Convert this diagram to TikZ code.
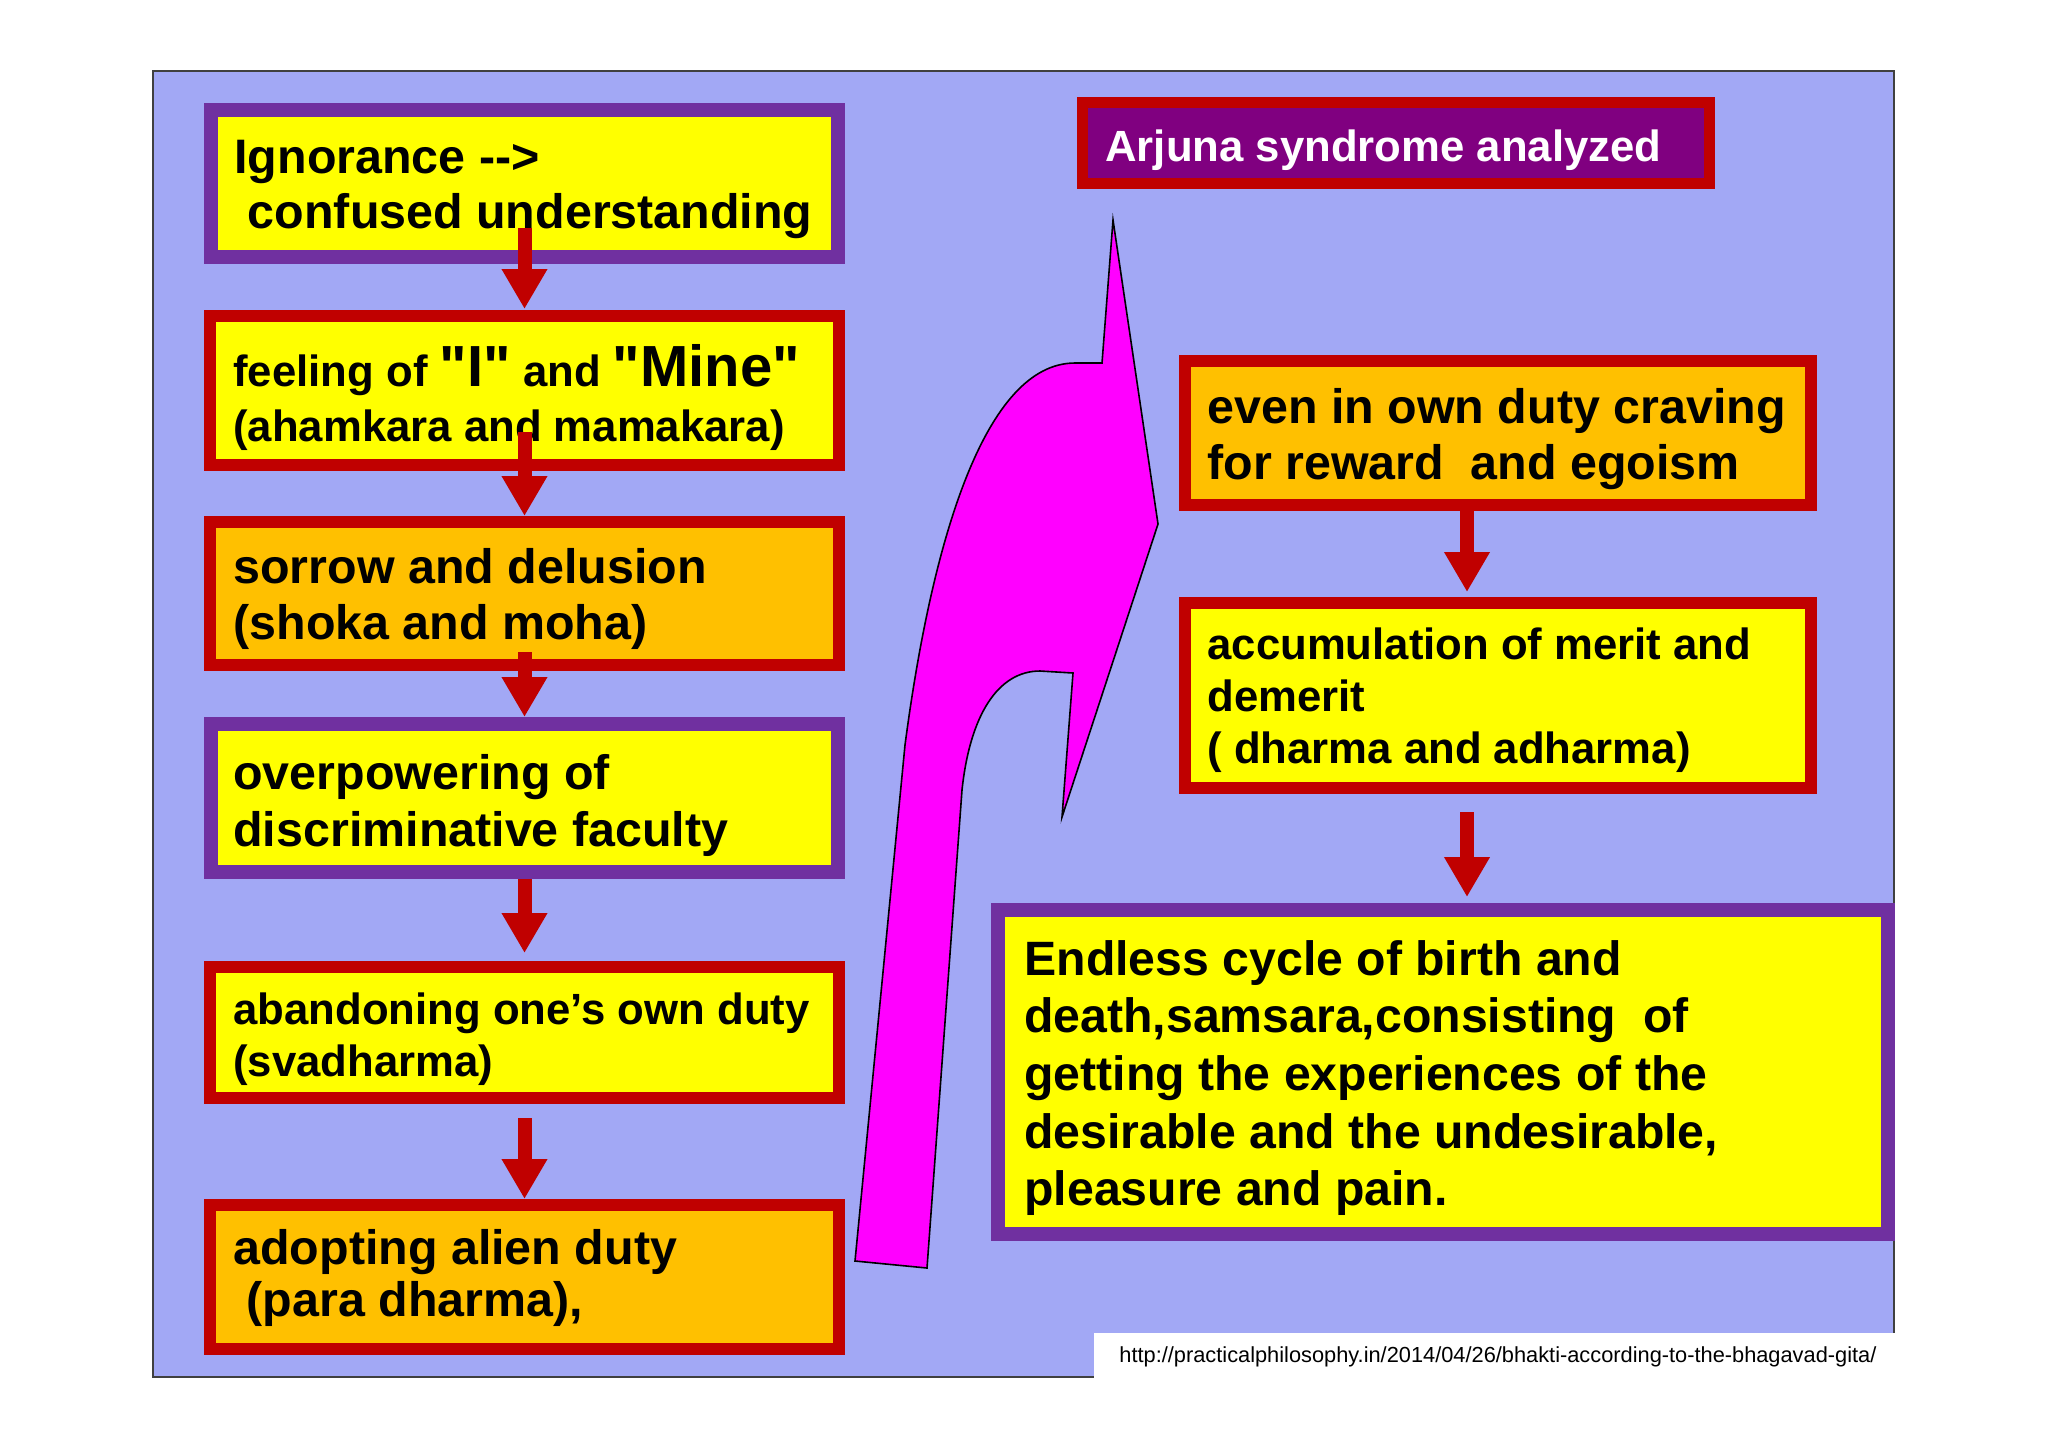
\documentclass[tikz,border=0pt]{standalone}
\usepackage{fontspec}
\newfontfamily\arial{Liberation Sans}
\usetikzlibrary{arrows.meta,calc,fit}
\definecolor{slidebg}{RGB}{162,168,245}
\definecolor{purpleb}{RGB}{112,48,160}
\definecolor{redb}{RGB}{192,0,0}
\definecolor{yell}{RGB}{255,255,0}
\definecolor{oran}{RGB}{255,192,0}
\definecolor{titlep}{RGB}{128,0,128}
\definecolor{magent}{RGB}{255,0,255}
\newcommand{\fA}{\arial\bfseries\fontsize{24.2pt}{27.5pt}\selectfont}
\newcommand{\fB}{\arial\bfseries\fontsize{21.85pt}{26pt}\selectfont}
\newcommand{\fC}{\arial\bfseries\fontsize{29pt}{30pt}\selectfont}
\newcommand{\fD}{\arial\bfseries\fontsize{24.1pt}{29pt}\selectfont}
\newcommand{\twol}[3]{\vtop{\baselineskip=#1\hbox{#2}\hbox{#3}}}
\begin{document}
\begin{tikzpicture}[x=0.5pt,y=-0.5pt,
  pbox/.style={draw=purpleb, line width=7pt, inner sep=0pt},
  rbox/.style={draw=redb, line width=6pt, inner sep=0pt},
  txt/.style={inner sep=0pt, anchor=base west, text=black},
  redarrow/.style={draw=redb, line width=7pt,
    -{Triangle[length=20pt 0 0, width=21.5pt 0 0]}}]
\useasboundingbox[fill=white] (0,0) rectangle (2048,1448);
% slide
\draw[draw=black!75, line width=0.8pt, fill=slidebg] (153,71) rectangle (1894,1377);

% left column
\node[pbox, fill=yell, fit={(211,110) (838,257)}] (b1) {};
\node[txt, font=\fA] (t1) at (234,173) {\twol{27.5pt}{Ignorance -{}->}{\ confused understanding}};
\draw[redarrow] ($(b1.south)+(0,-36)$) -- ($(b1.south)+(0,45)$);

\node[rbox, fill=yell, fit={(210,316) (839,465)}] (b2) {};
\node[txt] (t2) at (233,386) {\vtop{\baselineskip=27.5pt
  \hbox{\fB feeling of {\fC "I"} and {\fC "Mine"}}
  \hbox{\fB (ahamkara and mamakara)}}};
\draw[redarrow] ($(b2.south)+(0,-39)$) -- ($(b2.south)+(0,45)$);

\node[rbox, fill=oran, fit={(210,522) (839,665)}] (b3) {};
\node[txt, font=\fA] (t3) at (233,583) {\twol{28pt}{sorrow and delusion}{(shoka and moha)}};
\draw[redarrow] ($(b3.south)+(0,-19)$) -- ($(b3.south)+(0,46)$);

\node[pbox, fill=yell, fit={(211,724) (838,872)}] (b4) {};
\node[txt, font=\fA] (t4) at (233,789) {\twol{28.5pt}{overpowering of}{discriminative faculty}};

\node[rbox, fill=yell, fit={(210,967) (839,1098)}] (b5) {};
\node[txt, font=\fB] (t5) at (233,1024) {\twol{26pt}{abandoning one’s own duty}{(svadharma)}};

\node[rbox, fill=oran, fit={(210,1205) (839,1349)}] (b6) {};
\node[txt, font=\fA] (t6) at (233,1264) {\twol{26pt}{adopting alien duty}{\ (para dharma),}};

\draw[redarrow] (b4.south) -- ($(b5.north)+(0,-8)$);
\draw[redarrow] ($(b5.south)+(0,14)$) -- (b6.north);

% magenta curved arrow
\draw[fill=magent, draw=black, line width=0.8pt, line join=miter]
  (855,1261) -- (905,745)
  .. controls (932,540) and (985,363) .. (1075,363)
  -- (1102,363) -- (1113,220) -- (1158,524) -- (1062,817) -- (1073,673)
  -- (1040,671) .. controls (998,671) and (970,715) .. (962,790)
  -- (927,1268) -- cycle;

% right column
\node[draw=redb, line width=5.5pt, fill=titlep, inner sep=0pt, fit={(1082.5,102.5) (1709.5,183.5)}] (title) {};
\node[txt, font=\fB, text=white] (tt) at (1105,161) {Arjuna syndrome analyzed};

\node[rbox, fill=oran, fit={(1185,361) (1811,505)}] (r1) {};
\node[txt, font=\fA] (tr1) at (1207,423) {\twol{28pt}{even in own duty craving}{for reward\ \ and egoism}};

\node[rbox, fill=yell, fit={(1185,603) (1811,788)}] (r2) {};
\node[txt, font=\fB] (tr2) at (1207,659) {\vtop{\baselineskip=26pt
  \hbox{accumulation of merit and}\hbox{demerit}\hbox{( dharma and adharma)}}};
\draw[redarrow] ($(r1.south)+(-31,0)$) -- ($(r2.north)+(-31,-5)$);

\node[pbox, fill=yell, fit={(998,910) (1888,1234)}] (r3) {};
\node[txt, font=\fD] (tr3) at (1024,975) {\vtop{\baselineskip=28.85pt
  \hbox{Endless cycle of birth and}
  \hbox{death,samsara,consisting\ \ of}
  \hbox{getting the experiences of the}
  \hbox{desirable and the undesirable,}
  \hbox{pleasure and pain.}}};
\draw[redarrow] ($(r2.south)+(-31,18)$) -- ($(r3.north)+(24,-6)$);

% source
\fill[white] (1094,1333) rectangle (1910,1420);
\node[txt, font=\arial\fontsize{10.9pt}{13pt}\selectfont] (url) at (1119,1362)
  {http://practicalphilosophy.in/2014/04/26/bhakti-according-to-the-bhagavad-gita/};
\end{tikzpicture}
\end{document}
